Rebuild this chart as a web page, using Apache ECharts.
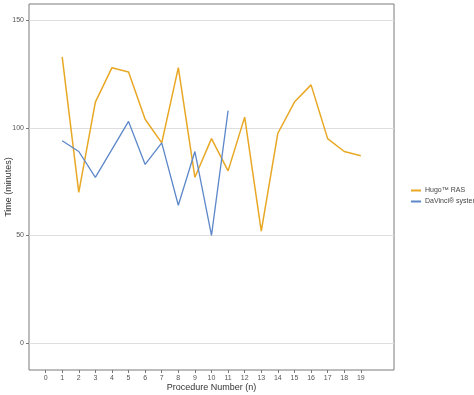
<!DOCTYPE html>
<html><head><meta charset="utf-8">
<script src="https://cdn.jsdelivr.net/npm/echarts@6/dist/echarts.min.js"></script>
<style>html,body{margin:0;padding:0;background:#fff}#c{width:474px;height:395px}</style>
</head><body><div id="c"></div>
<script>
const procedures = [1,2,3,4,5,6,7,8,9,10,11,12,13,14,15,16,17,18,19];
const hugoTimes = [133,70,112,128,126,104,93,128,77,95,80,105,52,97.5,112,120,95,89,87];
const davinciTimes = [94,89,77,90,103,83,93,64,89,50,108];
const xTicks = [0,1,2,3,4,5,6,7,8,9,10,11,12,13,14,15,16,17,18,19];
const yTicks = [0,50,100,150];
const seriesNames = ['Hugo™ RAS','DaVinci® system'];

const chart = echarts.init(document.getElementById('c'));
chart.setOption({
  animation:false,
  grid:{left:29,top:4,right:80,bottom:25,show:true,borderColor:'#7a7a7a',borderWidth:1,containLabel:false,outerBoundsMode:'none'},
  legend:{orient:'vertical',left:406,top:182,itemWidth:10,itemHeight:2,itemGap:4,icon:'rect',
    textStyle:{fontSize:7,color:'#444',fontFamily:'Liberation Sans',padding:[0,0,0,-1]},
    data:seriesNames},
  xAxis:{type:'value',min:-1,max:21,
    name:'Procedure Number (n)',nameLocation:'middle',nameGap:13,nameMoveOverlap:false,
    nameTextStyle:{fontSize:9,color:'#333',fontFamily:'Liberation Sans'},
    axisLine:{show:false,onZero:false},
    axisTick:{show:true,length:3,lineStyle:{color:'#777'},customValues:xTicks},
    axisLabel:{fontSize:7,color:'#555',margin:5,fontFamily:'Liberation Sans',customValues:xTicks},
    splitLine:{show:false}},
  yAxis:{type:'value',min:-12.6,max:157.6,
    name:'Time (minutes)',nameLocation:'middle',nameGap:16,nameMoveOverlap:false,
    nameTextStyle:{fontSize:9,color:'#333',fontFamily:'Liberation Sans'},
    axisLine:{show:false,onZero:false},
    axisTick:{show:true,length:3,lineStyle:{color:'#777'},customValues:yTicks},
    axisLabel:{fontSize:7,color:'#555',margin:5,fontFamily:'Liberation Sans',customValues:yTicks},
    splitLine:{show:true,lineStyle:{color:'#dedede',width:1}}},
  series:[
    {name:seriesNames[0],type:'line',symbol:'none',color:'#E8A825',lineStyle:{width:1.5},
     data:procedures.map((p,i)=>[p,hugoTimes[i]])},
    {name:seriesNames[1],type:'line',symbol:'none',color:'#5C87C9',lineStyle:{width:1.3},
     data:davinciTimes.map((v,i)=>[procedures[i],v])}
  ]
});
</script></body></html>
